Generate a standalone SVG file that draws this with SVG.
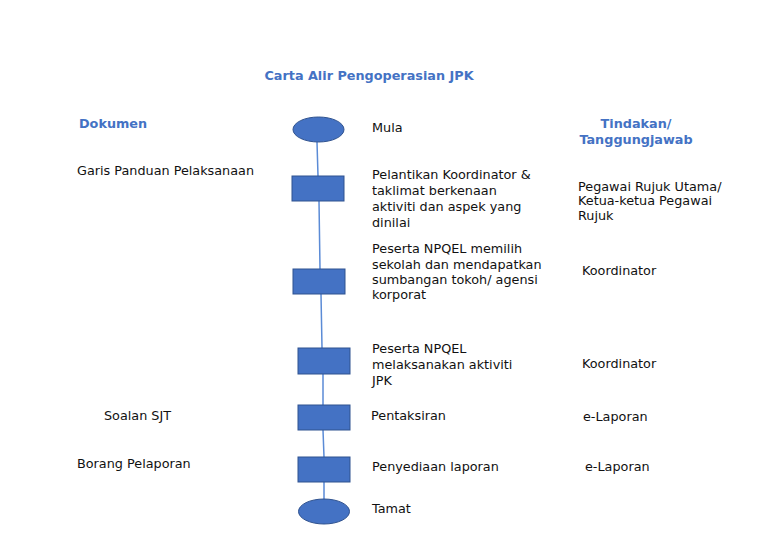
<svg xmlns="http://www.w3.org/2000/svg" width="768" height="543" viewBox="0 0 768 543">
<style>
text{font-family:"DejaVu Sans",sans-serif;font-size:12.8px;fill:#111}
.h{font-weight:bold;fill:#4472C4}
.s{fill:#4472C4;stroke:#2F528F;stroke-width:1}
.c{stroke:#5B8BD6;stroke-width:1.5;fill:none}
</style>
<rect width="768" height="543" fill="#fff"/>
<text class="h" x="369" y="80" text-anchor="middle">Carta Alir Pengoperasian JPK</text>
<text class="h" x="79" y="128">Dokumen</text>
<text class="h" x="636" y="128" text-anchor="middle">Tindakan/</text>
<text class="h" x="636" y="144" text-anchor="middle">Tanggungjawab</text>
<g id="connectors">
<path class="c" d="M317,142 L318,176 M319,201 L320,269 M321,294 L322,348 M323,374 L323,405 M323,430 L324,457 M324,482 L324,499"/>
</g>
<g id="mula"><ellipse class="s" cx="318.5" cy="129.5" rx="25.5" ry="12.5"/><text x="372" y="132">Mula</text></g>
<g id="n1"><rect class="s" x="292" y="176" width="52" height="25"/>
<text x="372" y="179">Pelantikan Koordinator &amp;</text><text x="372" y="195">taklimat berkenaan</text><text x="372" y="211">aktiviti dan aspek yang</text><text x="372" y="227">dinilai</text></g>
<g id="n2"><rect class="s" x="293" y="269" width="52" height="25"/>
<text x="372" y="253">Peserta NPQEL memilih</text><text x="372" y="269">sekolah dan mendapatkan</text><text x="372" y="284">sumbangan tokoh/ agensi</text><text x="372" y="299">korporat</text></g>
<g id="n3"><rect class="s" x="298" y="348" width="52" height="26"/>
<text x="372" y="353">Peserta NPQEL</text><text x="372" y="369">melaksanakan aktiviti</text><text x="372" y="385">JPK</text></g>
<g id="n4"><rect class="s" x="298" y="405" width="52" height="25"/><text x="371" y="420">Pentaksiran</text></g>
<g id="n5"><rect class="s" x="298" y="457" width="52" height="25"/><text x="372" y="471">Penyediaan laporan</text></g>
<g id="tamat"><ellipse class="s" cx="324" cy="511.5" rx="25.5" ry="12.5"/><text x="372" y="513">Tamat</text></g>
<g id="docs">
<text x="77" y="175">Garis Panduan Pelaksanaan</text>
<text x="104" y="420">Soalan SJT</text>
<text x="77" y="468">Borang Pelaporan</text>
</g>
<g id="actions">
<text x="578" y="191">Pegawai Rujuk Utama/</text><text x="578" y="205">Ketua-ketua Pegawai</text><text x="578" y="220">Rujuk</text>
<text x="582" y="275">Koordinator</text>
<text x="582" y="368">Koordinator</text>
<text x="583" y="421">e-Laporan</text>
<text x="585" y="471">e-Laporan</text>
</g>
</svg>
